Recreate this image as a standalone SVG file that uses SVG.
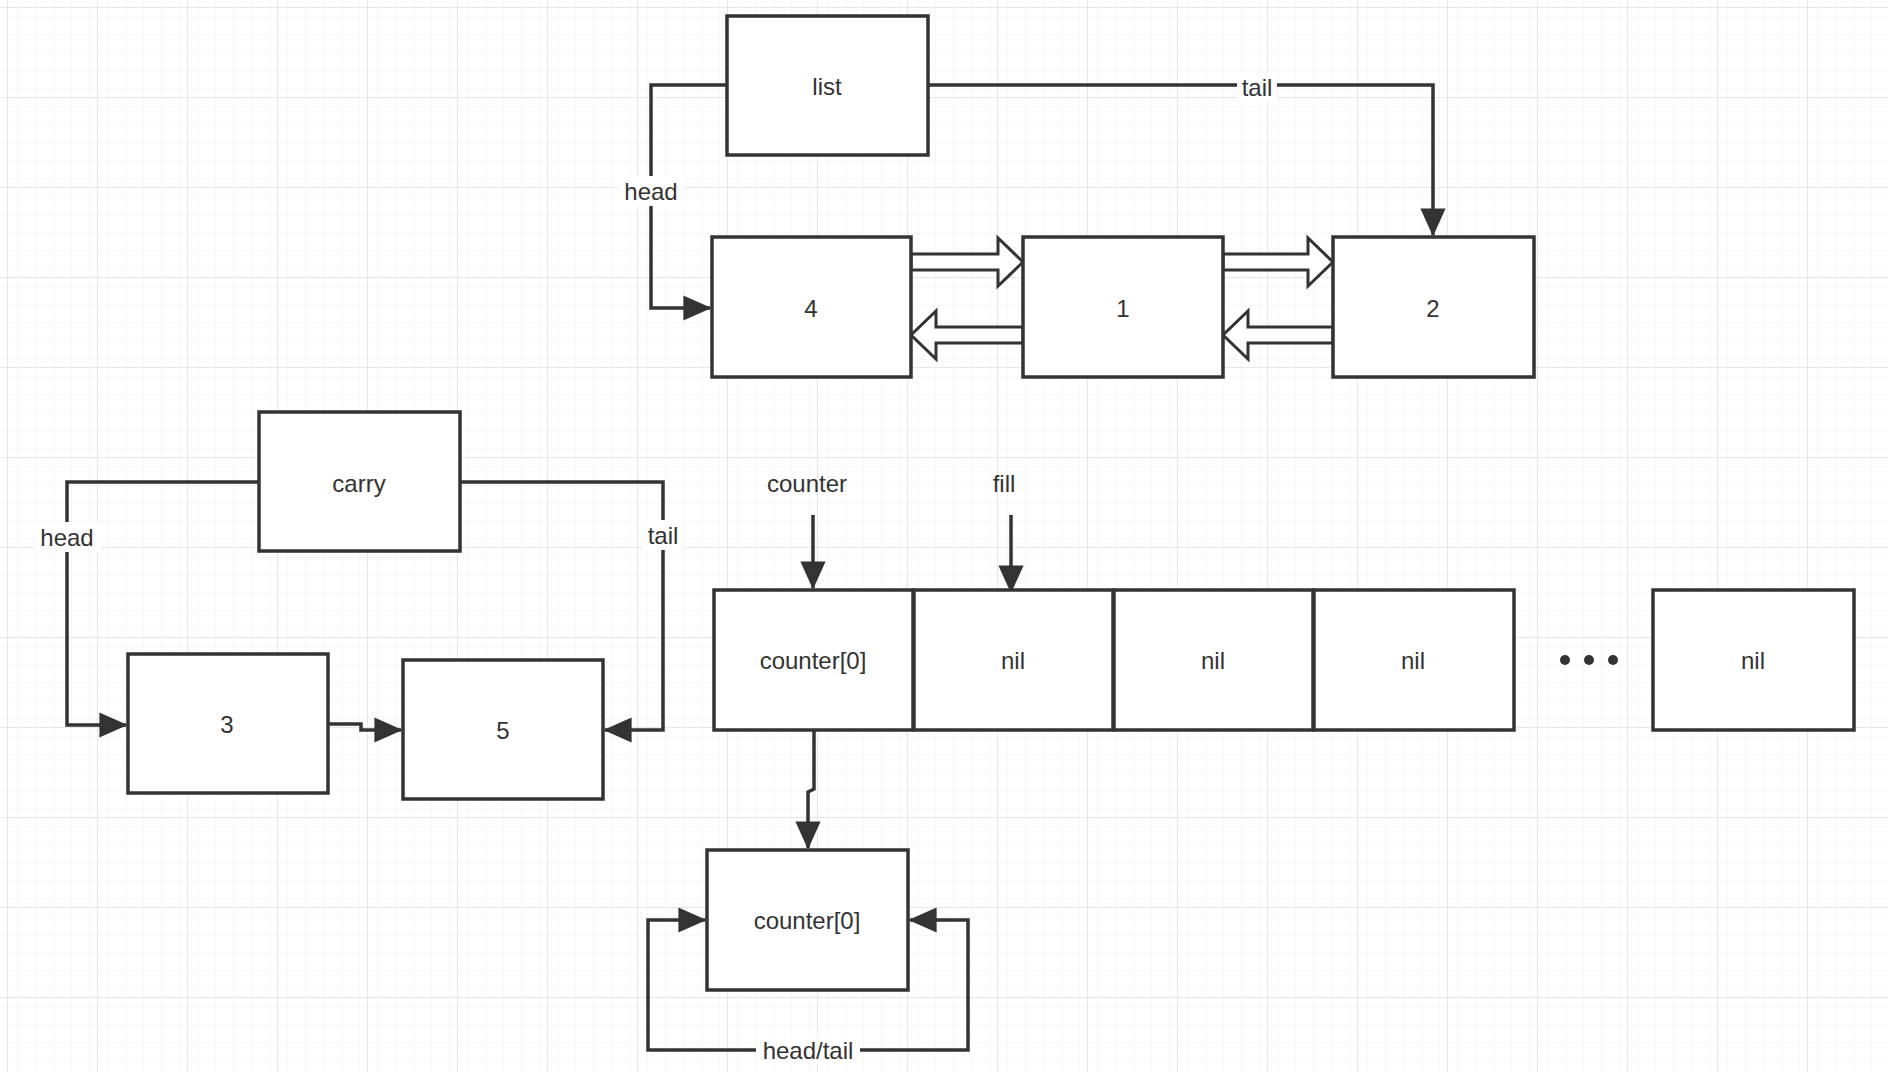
<svg xmlns="http://www.w3.org/2000/svg" width="1888" height="1072" viewBox="0 0 1888 1072">
<defs>
<pattern id="minor" width="18" height="18" patternUnits="userSpaceOnUse"><path d="M18 0V18H0" fill="none" stroke="#eeeeee" stroke-width="1"/></pattern>
<pattern id="major" x="8" y="8" width="90" height="90" patternUnits="userSpaceOnUse"><path d="M90 0V90H0" fill="none" stroke="#e0e0e0" stroke-width="1.5"/></pattern>
<marker id="ah" viewBox="0 0 10 10" refX="9" refY="5" markerWidth="6" markerHeight="6" markerUnits="userSpaceOnUse" orient="auto"><path d="M0 0L10 5L0 10z" fill="#333"/></marker>
<marker id="a" viewBox="0 0 10 10" refX="9.5" refY="5" markerWidth="8" markerHeight="8" orient="auto"><path d="M0 0.5L10 5L0 9.5z" fill="#333"/></marker>
</defs>
<style>
.b{fill:#fff;stroke:#333;stroke-width:3.5}
.t{font-family:"Liberation Sans",Arial,sans-serif;font-size:24px;fill:#333;text-anchor:middle;dominant-baseline:central}
.c{fill:none;stroke:#333;stroke-width:3.5;marker-end:url(#a)}
.n{fill:none;stroke:#333;stroke-width:3.5}
.h{fill:#fff;stroke:#333;stroke-width:3}
.lb{fill:#fff}
</style>
<rect width="1888" height="1072" fill="#fff"/>
<rect width="1888" height="1072" fill="url(#minor)"/>
<rect width="1888" height="1072" fill="url(#major)"/>
<g id="connectors">
<path class="c" d="M727 85H651V308H710"/>
<path class="c" d="M928 85H1433V235"/>
<path class="c" d="M259 482H67V725H126"/>
<path class="c" d="M460 482H663V730H605"/>
<path class="c" d="M328 724H361V730H401"/>
<path class="c" d="M813 515V588"/>
<path class="c" d="M1011 515V592"/>
<path class="c" d="M814 730V789L808 792V848"/>
<path class="c" d="M760 1050H648V920H705"/>
<path class="c" d="M860 1050H968V920H910"/>
<polygon class="h" d="M0 0" points="911,254 998,254 998,238 1023,262 998,286 998,270 911,270"/>
<polygon class="h" points="1023,327 936,327 936,311 911,335 936,359 936,343 1023,343"/>
<polygon class="h" points="1223,254 1308,254 1308,238 1333,262 1308,286 1308,270 1223,270"/>
<polygon class="h" points="1333,327 1248,327 1248,311 1223,335 1248,359 1248,343 1333,343"/>
<rect class="lb" x="618" y="176" width="66" height="30"/><text class="t" x="651" y="191">head</text>
<rect class="lb" x="1237" y="73" width="40" height="28"/><text class="t" x="1257" y="87">tail</text>
<rect class="lb" x="34" y="522" width="66" height="30"/><text class="t" x="67" y="537">head</text>
<rect class="lb" x="643" y="520" width="40" height="30"/><text class="t" x="663" y="535">tail</text>
<rect class="lb" x="756" y="1036" width="104" height="28"/><text class="t" x="808" y="1050">head/tail</text>
<text class="t" x="807" y="483">counter</text>
<text class="t" x="1004" y="483">fill</text>
</g>
<g id="list"><rect class="b" x="727" y="16" width="201" height="139"/><text class="t" x="827" y="86">list</text></g>
<g id="n4"><rect class="b" x="712" y="237" width="199" height="140"/><text class="t" x="811" y="308">4</text></g>
<g id="n1"><rect class="b" x="1023" y="237" width="200" height="140"/><text class="t" x="1123" y="308">1</text></g>
<g id="n2"><rect class="b" x="1333" y="237" width="201" height="140"/><text class="t" x="1433" y="308">2</text></g>
<g id="carry"><rect class="b" x="259" y="412" width="201" height="139"/><text class="t" x="359" y="483">carry</text></g>
<g id="n3"><rect class="b" x="128" y="654" width="200" height="139"/><text class="t" x="227" y="724">3</text></g>
<g id="n5"><rect class="b" x="403" y="660" width="200" height="139"/><text class="t" x="503" y="730">5</text></g>
<g id="c0"><rect class="b" x="714" y="590" width="199" height="140"/><text class="t" x="813" y="660">counter[0]</text></g>
<g id="nil1"><rect class="b" x="914" y="590" width="199" height="140"/><text class="t" x="1013" y="660">nil</text></g>
<g id="nil2"><rect class="b" x="1114" y="590" width="199" height="140"/><text class="t" x="1213" y="660">nil</text></g>
<g id="nil3"><rect class="b" x="1314" y="590" width="200" height="140"/><text class="t" x="1413" y="660">nil</text></g>
<g id="nil4"><rect class="b" x="1653" y="590" width="201" height="140"/><text class="t" x="1753" y="660">nil</text></g>
<g id="dots"><circle cx="1565" cy="660" r="5" fill="#333"/><circle cx="1589" cy="660" r="5" fill="#333"/><circle cx="1613" cy="660" r="5" fill="#333"/></g>
<g id="c0b"><rect class="b" x="707" y="850" width="201" height="140"/><text class="t" x="807" y="920">counter[0]</text></g>
</svg>
